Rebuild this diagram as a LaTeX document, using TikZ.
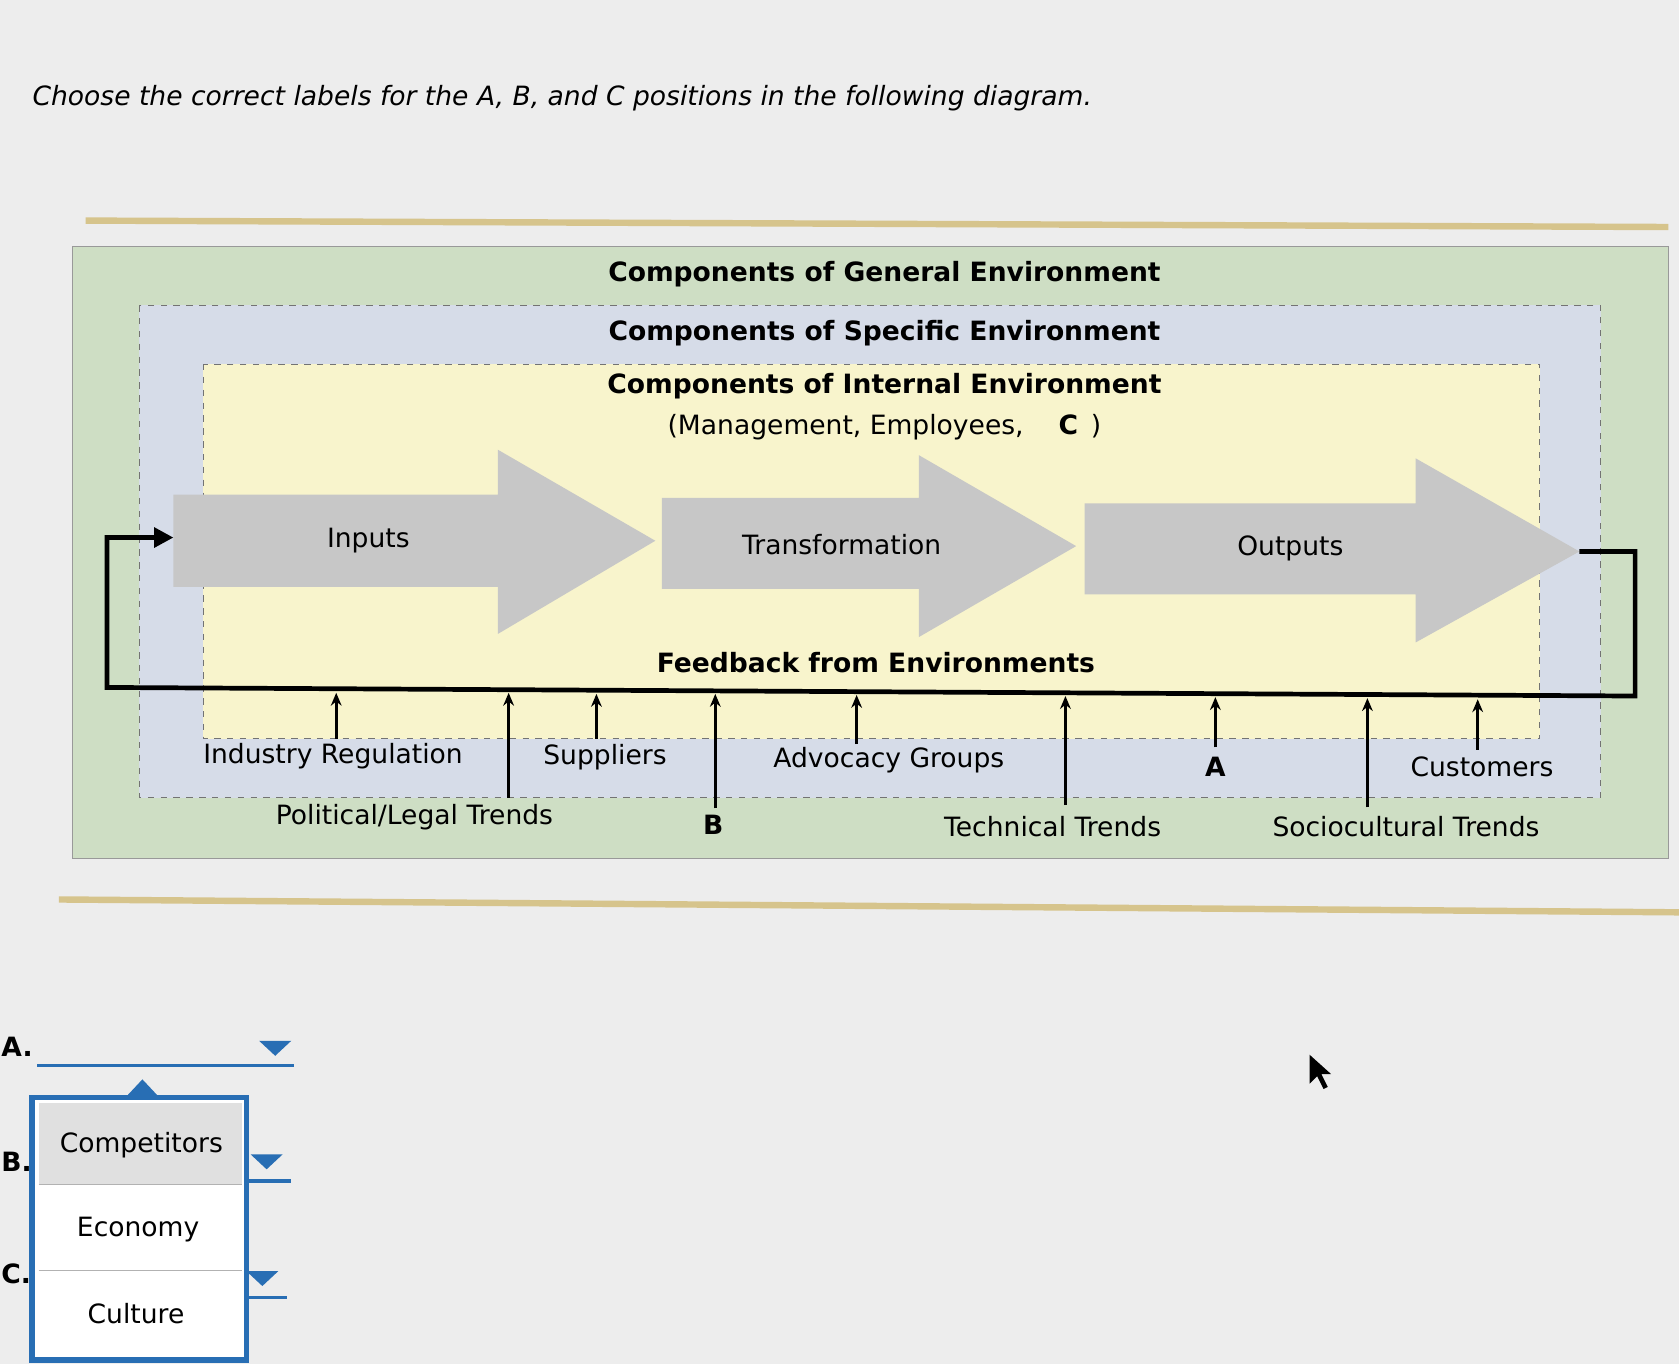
\documentclass[tikz,border=0pt]{standalone}
\usepackage{fontspec}
\setmainfont{DejaVu Sans}
\usetikzlibrary{arrows.meta}
\definecolor{grn}{RGB}{206,222,196}
\definecolor{blu}{RGB}{214,220,232}
\definecolor{yel}{RGB}{248,244,204}
\definecolor{tanc}{RGB}{214,196,140}
\definecolor{uiblue}{RGB}{40,110,180}
\begin{document}
\begin{tikzpicture}[x=0.5pt,y=-0.5pt,
  lab/.style={font=\fontsize{12.4}{14}\selectfont,inner sep=0pt},
  hd/.style={lab,font=\fontsize{12.4}{14}\selectfont\bfseries},
  big/.style={fill=black!22,draw=none},
  fb/.style={line width=2.2pt,line join=miter},
  up/.style={line width=1.2pt,-{Stealth[length=6pt,width=5pt]}},
  tan/.style={line width=3pt,draw=tanc}]
\fill[black!7] (0,0) rectangle (1568,1274);
\useasboundingbox (0,0) rectangle (1568,1274);
\node[lab,anchor=west,font=\fontsize{12.4}{14}\selectfont\itshape] (title) at (30,92) {Choose the correct labels for the A, B, and C positions in the following diagram.};
\draw[tan] (80,206) -- (1558,212);
\draw[tan] (55,840) -- (1568,852);
\draw[fill=grn,draw=black!40] (68,230) rectangle (1558,802);
\draw[fill=blu,draw=black!55,dashed] (130,285) rectangle (1495,745);
\draw[fill=yel,draw=black!55,dashed] (190,340) rectangle (1438,690);
\node[hd] (gen) at (826,256) {Components of General Environment};
\node[hd] (spe) at (826,311) {Components of Specific Environment};
\node[hd] (int) at (826,361) {Components of Internal Environment};
\node[lab] (mgmt) at (826,399) {(Management, Employees, \quad\textbf{C} \,)};
\fill[big] (162,462) -- (465,462) -- (465,420) -- (612,505) -- (465,592) -- (465,548) -- (162,548) -- cycle;
\fill[big] (618,465) -- (858,465) -- (858,425) -- (1005,510) -- (858,595) -- (858,550) -- (618,550) -- cycle;
\fill[big] (1013,470) -- (1322,470) -- (1322,428) -- (1475,515) -- (1322,600) -- (1322,555) -- (1013,555) -- cycle;
\node[lab] (in) at (344,505) {Inputs};
\node[lab] (tr) at (786,509) {Transformation};
\node[lab] (out) at (1205,512) {Outputs};
\coordinate (o) at (1475,515);
\coordinate (i) at (162,502);
\draw[fb,-{Triangle[length=9pt,width=9pt]}] (o) -- (1527,515) -- (1527,650) -- (100,642) -- (100,502) -- (i);
\node[hd] (fbk) at (818,619) {Feedback from Environments};
\foreach \x/\y/\t in {314/690/647,475/745/647,557/690/648,668/755/648,800/695/649,995/752/650,1135/698/651,1277/754/652,1380/700/653}
  \draw[up] (\x,\y) -- (\x,\t);
\node[lab] (ir) at (311,706) {Industry Regulation};
\node[lab] (su) at (565,707) {Suppliers};
\node[lab] (ag) at (830,710) {Advocacy Groups};
\node[hd] (a) at (1135,716) {A};
\node[lab] (cu) at (1384,716) {Customers};
\node[lab] (pl) at (387,763) {Political/Legal Trends};
\node[hd] (b) at (666,770) {B};
\node[lab] (tt) at (983,772) {Technical Trends};
\node[lab] (st) at (1313,772) {Sociocultural Trends};
% answer area
\node[hd,anchor=west] (la) at (1,978) {A.};
\node[hd,anchor=west] (lb) at (1,1085) {B.};
\node[hd,anchor=west] (lc) at (1,1190) {C.};
\draw[uiblue,line width=1.5pt] (35,995) -- (275,995);
\fill[uiblue] (242,972) -- (272,972) -- (257,986) -- cycle;
\draw[uiblue,line width=1.5pt] (232,1103) -- (272,1103);
\fill[uiblue] (234,1078) -- (264,1078) -- (249,1092) -- cycle;
\draw[uiblue,line width=1.5pt] (228,1212) -- (268,1212);
\fill[uiblue] (230,1187) -- (260,1187) -- (245,1201) -- cycle;
\fill[white] (30,1025) rectangle (230,1270);
\fill[black!12] (36,1030) rectangle (226,1106);
\draw[black!30] (36,1106) -- (226,1106) (36,1186) -- (226,1186);
\draw[uiblue,line width=2.5pt] (30,1025) rectangle (230,1270);
\fill[uiblue] (118,1024) -- (148,1024) -- (133,1008) -- cycle;
\node[lab] (comp) at (132,1069) {Competitors};
\node[lab] (econ) at (129,1148) {Economy};
\node[lab] (cult) at (127,1227) {Culture};
\fill[black] (1223,985) -- (1223,1012) -- (1230,1005) -- (1236,1017) -- (1240,1015) -- (1234,1003) -- (1243,1003) -- cycle;
\end{tikzpicture}
\end{document}
